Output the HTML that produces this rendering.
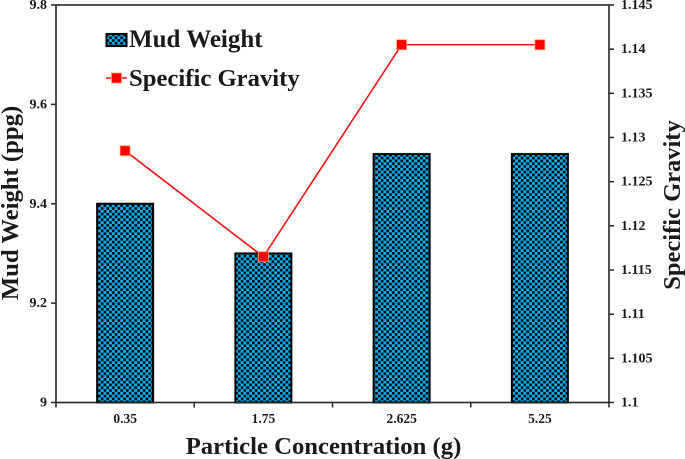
<!DOCTYPE html>
<html>
<head>
<meta charset="utf-8">
<style>
html,body{margin:0;padding:0;background:#fff;width:685px;height:459px;overflow:hidden}
svg{display:block}
text{font-family:"Liberation Serif",serif;font-weight:bold;fill:#1a1a1a}
</style>
</head>
<body>
<svg id="chart" width="685" height="459" viewBox="0 0 685 459" xmlns="http://www.w3.org/2000/svg">
<defs>
<pattern id="check" width="5.6" height="5.6" patternUnits="userSpaceOnUse">
<rect width="5.6" height="5.6" fill="#00aeef"/>
<rect width="2.6" height="2.6" fill="#000"/>
<rect x="2.8" y="2.8" width="2.6" height="2.6" fill="#000"/>
</pattern>
</defs>
</svg>
<script>
const categories = ['0.35', '1.75', '2.625', '5.25'];
const mudWeight = [9.4, 9.3, 9.5, 9.5];
const specificGravity = [1.1285, 1.1165, 1.1405, 1.1405];
const leftTicks = ['9', '9.2', '9.4', '9.6', '9.8'];
const rightTicks = ['1.1', '1.105', '1.11', '1.115', '1.12', '1.125', '1.13', '1.135', '1.14', '1.145'];

const svg = document.getElementById('chart');
const NS = 'http://www.w3.org/2000/svg';
const plotLeft = 56, plotRight = 609, plotTop = 5, plotBottom = 402.5;
const leftMin = 9, leftMax = 9.8, rightMin = 1.1, rightMax = 1.145;
const barWidth = 56;

function yLeft(v) { return plotBottom - (v - leftMin) / (leftMax - leftMin) * (plotBottom - plotTop); }
function yRight(v) { return plotBottom - (v - rightMin) / (rightMax - rightMin) * (plotBottom - plotTop); }
function xBand(i) { return plotLeft + (plotRight - plotLeft) * (i + 0.5) / categories.length; }
function xEdge(i) { return plotLeft + (plotRight - plotLeft) * i / categories.length; }

function make(tag, attrs, text) {
  const el = document.createElementNS(NS, tag);
  for (const k in attrs) el.setAttribute(k, attrs[k]);
  if (text !== undefined) el.textContent = text;
  svg.appendChild(el);
  return el;
}

// bars
mudWeight.forEach((v, i) => {
  const el = make('rect', { x: xBand(i) - barWidth / 2, y: yLeft(v), width: barWidth, height: plotBottom - yLeft(v), fill: 'url(#check)', stroke: '#000', 'stroke-width': 2 });
  
  
});

// plot frame
const frame = make('rect', { x: plotLeft, y: plotTop, width: plotRight - plotLeft, height: plotBottom - plotTop, fill: 'none', stroke: '#262626', 'stroke-width': 1.6 });



// left axis ticks and labels
leftTicks.forEach((t) => {
  const y = yLeft(parseFloat(t));
  const tick = make('line', { x1: plotLeft - 5, x2: plotLeft, y1: y, y2: y, stroke: '#262626', 'stroke-width': 1.5 });
  
  
  const label = make('text', { x: plotLeft - 9, y: y + 4, 'text-anchor': 'end', 'font-size': 14 }, t);
  
  
});

// right axis ticks and labels
rightTicks.forEach((t) => {
  const y = yRight(parseFloat(t));
  const tick = make('line', { x1: plotRight, x2: plotRight + 5, y1: y, y2: y, stroke: '#262626', 'stroke-width': 1.5 });
  
  
  const label = make('text', { x: plotRight + 12, y: y + 4, 'font-size': 14 }, t);
  
  
});

// x axis ticks
for (let i = 0; i <= categories.length; i++) {
  const tick = make('line', { x1: xEdge(i), x2: xEdge(i), y1: plotBottom, y2: plotBottom + 5, stroke: '#262626', 'stroke-width': 1.5 });
  
  
}

// x axis labels
categories.forEach((c, i) => {
  const label = make('text', { x: xBand(i), y: 423, 'text-anchor': 'middle', 'font-size': 13.5 }, c);
  
  
});

// specific gravity line
const line = make('polyline', { points: specificGravity.map((v, i) => xBand(i) + ',' + yRight(v)).join(' '), fill: 'none', stroke: '#f01414', 'stroke-width': 1.6 });



// specific gravity markers
specificGravity.forEach((v, i) => {
  const m = make('rect', { x: xBand(i) - 5, y: yRight(v) - 5, width: 10, height: 10, fill: '#ff0000', stroke: '#ffa060', 'stroke-width': 0.8 });
  
  
});

// axis titles
const xTitle = make('text', { x: 323.5, y: 454, 'text-anchor': 'middle', 'font-size': 24.7 }, 'Particle Concentration (g)');



const yTitle = make('text', { x: 0, y: 0, transform: 'translate(18,203) rotate(-90)', 'text-anchor': 'middle', 'font-size': 24.7 }, 'Mud Weight (ppg)');



const y2Title = make('text', { x: 0, y: 0, transform: 'translate(680,205) rotate(-90)', 'text-anchor': 'middle', 'font-size': 24.5 }, 'Specific Gravity');



// legend
const legendBar = make('rect', { x: 106.5, y: 34, width: 20, height: 12, fill: 'url(#check)', stroke: '#000', 'stroke-width': 2 });


const legendText1 = make('text', { x: 129, y: 47, 'font-size': 25 }, 'Mud Weight');


const legendLine = make('line', { x1: 106, x2: 127, y1: 78, y2: 78, stroke: '#f01414', 'stroke-width': 1.6 });


const legendMarker = make('rect', { x: 111.5, y: 73, width: 10, height: 10, fill: '#ff0000', stroke: '#ffa060', 'stroke-width': 0.8 });


const legendText2 = make('text', { x: 129, y: 86, 'font-size': 24.7 }, 'Specific Gravity');


</script>
</body>
</html>
